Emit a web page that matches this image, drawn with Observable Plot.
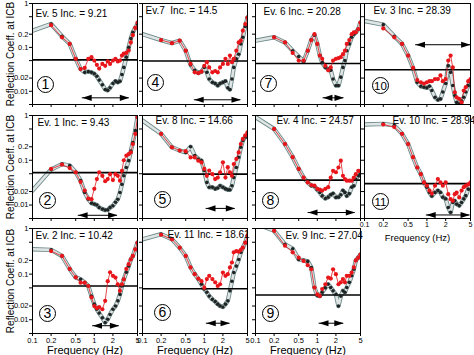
<!DOCTYPE html>
<html><head><meta charset="utf-8">
<script src="https://cdn.jsdelivr.net/npm/d3@7"></script>
<script src="https://cdn.jsdelivr.net/npm/@observablehq/plot@0.6"></script>
<style>
body{margin:0;background:#fff}
#chart{position:relative;width:474px;height:355px;overflow:hidden;background:#fff}
#chart svg{position:absolute;overflow:visible;background:transparent}
</style>
</head><body><div id="chart"></div><script>
// ---- data ----
const freqs = [0.1, 0.2, 0.3, 0.4, 0.5, 0.6, 0.7, 0.8, 0.9, 1.0, 1.1, 1.2, 1.35, 1.5, 1.65, 1.8, 2.0, 2.2, 2.4, 2.6, 2.8, 3.0, 3.3, 3.6, 3.9, 4.2, 4.6, 5.0];
const xTicks = [0.1, 0.2, 0.5, 1, 2, 5];
const yTicks = [1, 0.5, 0.2, 0.1, 0.05, 0.02, 0.01, 0.005];

const black1 = [0.24, 0.34, 0.18, 0.12, 0.055, 0.032, 0.027, 0.028, 0.027, 0.025, 0.022, 0.018, 0.014, 0.011, 0.0105, 0.012, 0.015, 0.017, 0.016, 0.017, 0.024, 0.035, 0.06, 0.1, 0.16, 0.22, 0.28, 0.34];
const red1   = [null, 0.32, 0.17, 0.12, 0.055, 0.032, 0.034, 0.055, 0.06, 0.05, 0.04, 0.033, 0.042, 0.038, 0.048, 0.042, 0.05, 0.055, 0.048, 0.05, 0.065, 0.072, 0.075, 0.085, 0.13, 0.19, 0.28, 0.37];
const black2 = [0.021, 0.062, 0.082, 0.076, 0.054, 0.035, 0.019, 0.0135, 0.011, 0.0105, 0.01, 0.0088, 0.0081, 0.0077, 0.0078, 0.0088, 0.0096, 0.0115, 0.0135, 0.019, 0.029, 0.045, 0.069, 0.098, 0.16, 0.25, 0.46, 0.92];
const red2   = [null, 0.064, 0.08, 0.067, 0.054, 0.033, 0.021, 0.014, 0.0135, 0.023, 0.038, 0.054, 0.045, 0.034, 0.038, 0.049, 0.036, 0.049, 0.045, 0.035, 0.058, 0.1, 0.127, 0.137, 0.15, 0.23, 0.39, 0.92];
const black3 = [0.35, 0.34, 0.25, 0.13, 0.085, 0.077, 0.065, 0.055, 0.033, 0.022, 0.017, 0.014, 0.011, 0.0087, 0.0103, 0.013, 0.017, 0.02, 0.026, 0.036, 0.055, 0.077, 0.11, 0.15, 0.21, 0.25, 0.35, 0.49];
const red3   = [null, 0.32, 0.25, 0.13, 0.085, 0.065, 0.065, 0.055, 0.031, 0.02, 0.018, 0.019, 0.017, 0.026, 0.07, 0.11, 0.092, 0.084, 0.06, 0.043, 0.06, 0.077, 0.13, 0.165, 0.21, 0.25, 0.35, 0.49];
const black4 = [0.2, 0.147, 0.125, 0.142, 0.084, 0.04, 0.03, 0.026, 0.028, 0.035, 0.027, 0.019, 0.016, 0.015, 0.0135, 0.015, 0.016, 0.017, 0.012, 0.011, 0.019, 0.035, 0.055, 0.07, 0.12, 0.17, 0.3, 0.48];
const red4   = [null, 0.147, 0.125, 0.142, 0.084, 0.042, 0.027, 0.026, 0.028, 0.038, 0.046, 0.035, 0.027, 0.029, 0.027, 0.035, 0.042, 0.055, 0.042, 0.065, 0.046, 0.055, 0.084, 0.13, 0.142, 0.24, 0.34, 0.48];
const black5 = [0.77, 0.39, 0.195, 0.165, 0.15, 0.2, 0.127, 0.107, 0.098, 0.059, 0.032, 0.025, 0.025, 0.023, 0.024, 0.027, 0.025, 0.023, 0.022, 0.022, 0.027, 0.041, 0.069, 0.117, 0.195, 0.275, 0.33, 0.36];
const red5   = [null, 0.39, 0.195, 0.165, 0.16, 0.116, 0.116, 0.098, 0.09, 0.064, 0.045, 0.059, 0.049, 0.038, 0.041, 0.054, 0.09, 0.041, 0.07, 0.054, 0.045, 0.082, 0.107, 0.15, 0.23, 0.3, 0.36, 0.42];
const black6 = [0.58, 0.75, 0.58, 0.38, 0.25, 0.14, 0.1, 0.078, 0.06, 0.047, 0.04, 0.033, 0.028, 0.025, 0.022, 0.02, 0.019, 0.022, 0.026, 0.043, 0.07, 0.108, 0.15, 0.21, 0.3, 0.38, 0.49, 0.69];
const red6   = [null, 0.73, 0.58, 0.38, 0.25, 0.14, 0.1, 0.08, 0.07, 0.05, 0.078, 0.092, 0.078, 0.066, 0.055, 0.06, 0.108, 0.092, 0.1, 0.14, 0.18, 0.3, 0.32, 0.31, 0.34, 0.38, 0.49, 0.69];
const black7 = [0.142, 0.17, 0.13, 0.084, 0.062, 0.048, 0.084, 0.147, 0.19, 0.12, 0.065, 0.045, 0.035, 0.032, 0.03, 0.019, 0.0135, 0.0135, 0.021, 0.035, 0.05, 0.084, 0.12, 0.17, 0.2, 0.22, 0.26, 0.37];
const red7   = [null, 0.17, 0.13, 0.075, 0.05, 0.05, 0.084, 0.147, 0.2, 0.12, 0.065, 0.055, 0.038, 0.03, 0.035, 0.05, 0.055, 0.057, 0.06, 0.07, 0.084, 0.12, 0.147, 0.2, 0.22, 0.22, 0.26, 0.37];
const black8 = [0.92, 0.5, 0.23, 0.117, 0.064, 0.041, 0.032, 0.027, 0.026, 0.022, 0.019, 0.016, 0.014, 0.015, 0.017, 0.018, 0.0148, 0.015, 0.017, 0.021, 0.019, 0.016, 0.018, 0.025, 0.027, 0.038, 0.045, 0.05];
const red8   = [null, 0.5, 0.23, 0.117, 0.064, 0.041, 0.032, 0.028, 0.027, 0.023, 0.022, 0.021, 0.023, 0.025, 0.041, 0.058, 0.054, 0.069, 0.098, 0.045, 0.038, 0.035, 0.035, 0.035, 0.041, 0.049, 0.058, 0.058];
const black9 = [1.3, 0.89, 0.45, 0.36, 0.21, 0.2, 0.19, 0.14, 0.051, 0.034, 0.033, 0.04, 0.05, 0.06, 0.051, 0.043, 0.036, 0.02, 0.033, 0.043, 0.04, 0.051, 0.066, 0.092, 0.128, 0.2, 0.23, 0.27];
const red9   = [null, 0.89, 0.42, 0.3, 0.23, 0.195, 0.157, 0.128, 0.051, 0.036, 0.033, 0.047, 0.06, 0.084, 0.08, 0.128, 0.1, 0.06, 0.066, 0.078, 0.066, 0.092, 0.092, 0.108, 0.14, 0.2, 0.23, 0.27];
const black10 = [0.4, 0.33, 0.18, 0.12, 0.065, 0.034, 0.016, 0.013, 0.0124, 0.012, 0.013, 0.0104, 0.0073, 0.0064, 0.0067, 0.0096, 0.015, 0.038, 0.027, 0.0135, 0.008, 0.0056, 0.0052, 0.006, 0.0073, 0.0096, 0.0135, 0.016];
const red10   = [null, 0.27, 0.17, 0.12, 0.065, 0.034, 0.018, 0.016, 0.015, 0.016, 0.017, 0.017, 0.019, 0.019, 0.023, 0.017, 0.019, 0.05, 0.065, 0.035, 0.0095, 0.0073, 0.0067, 0.0056, 0.0104, 0.0124, 0.017, 0.019];
const black11 = [0.63, 0.65, 0.6, 0.39, 0.23, 0.117, 0.069, 0.049, 0.032, 0.025, 0.019, 0.016, 0.019, 0.021, 0.019, 0.015, 0.0137, 0.0088, 0.0069, 0.0114, 0.0124, 0.0105, 0.0097, 0.0114, 0.0137, 0.0162, 0.0226, 0.029];
const red11   = [null, 0.63, 0.55, 0.39, 0.23, 0.117, 0.069, 0.049, 0.032, 0.027, 0.021, 0.018, 0.027, 0.038, 0.032, 0.027, 0.032, 0.0175, 0.0135, 0.0124, 0.0175, 0.019, 0.0148, 0.021, 0.025, 0.027, 0.029, 0.032];

const panelNumbers = ["1","2","3","4","5","6","7","8","9","10","11"];
const panelTitles = ["Ev. 5 Inc. = 9.21", "Ev. 1 Inc. = 9.43", "Ev. 2 Inc. = 10.42",
  "Ev.7  Inc. = 14.5", "Ev. 8 Inc. = 14.66", "Ev. 11 Inc. = 18.61",
  "Ev. 6 Inc. = 20.28", "Ev. 4 Inc. = 24.57", "Ev. 9 Inc. = 27.04",
  "Ev. 3 Inc. = 28.39", "Ev. 10 Inc. = 28.94"];
const thresholds = [0.052, 0.053, 0.055, 0.049, 0.049, 0.048, 0.043, 0.036, 0.035, 0.031, 0.030];
const arrowLo = [0.64, 0.55, 0.94, 0.69, 1.07, 1.08, 1.24, 0.71, 1.07, 0.66, 0.98];
const arrowHi = [3.67, 2.37, 2.53, 3.9, 3.16, 2.6, 2.69, 4.1, 2.67, 5.0, 4.9];
const arrowLevel = [0.0071, 0.0059, 0.0074, 0.0064, 0.0084, 0.0084, 0.0071, 0.0068, 0.0084, 0.115, 0.006];

const blackSeries = [black1, black2, black3, black4, black5, black6, black7, black8, black9, black10, black11];
const redSeries = [red1, red2, red3, red4, red5, red6, red7, red8, red9, red10, red11];

// ---- layout (positions/styles) ----
const colX = [32, 142, 255, 364], colW = [105, 105, 105, 106];
const rowY = [3, 115, 228], rowH = [101, 103, 105];
const titleDx = [3, 5, 3, 3, 13, 25, 8, 21, 30, 9, 28];
const titleDy = [10.5, 7, 7, 7.5, 5.5, 6.5, 8, 5.5, 7, 7.5, 5];
const circDx = [13, 15, 15, 13, 20, 20, 13, 15, 15, 16, 16];
const circDy = [-20, -18, -20, -22, -19, -21, -21, -18, -20, -19, -17];
const ML = 32, MR = 6, MT = 6, MB = 24;
const FONT = "Liberation Sans, Arial, Helvetica, sans-serif";

const headSym = {
  draw(ctx, size) {
    const r = Math.sqrt(size / Math.PI);
    ctx.moveTo(0, 0);
    ctx.lineTo(-2.6 * r, -0.85 * r);
    ctx.lineTo(-2.6 * r, 0.85 * r);
    ctx.closePath();
  }
};

const chart = document.getElementById("chart");

for (let i = 0; i < 11; i++) {
  const col = Math.floor(i / 3), row = i % 3;
  const w = colW[col], h = rowH[row];
  const showX = row === 2 || i === 10;
  const showY = col === 0;
  const pts = freqs.map((f, k) => ({f, b: blackSeries[i][k], r: redSeries[i][k]}));
  const dots = pts.filter(d => d.f >= 0.2);
  const reds = pts.filter(d => d.r != null);
  const arr = [{lo: arrowLo[i], hi: arrowHi[i], y: arrowLevel[i]}];
  const heads = [{f: arrowLo[i], y: arrowLevel[i], rot: 180}, {f: arrowHi[i], y: arrowLevel[i], rot: 0}];
  const marks = [
    Plot.line(pts, {x: "f", y: "b", stroke: "#6f8b8b", strokeWidth: 4.4, clip: true}),
    Plot.line(pts, {x: "f", y: "b", stroke: "#dfe4e4", strokeWidth: 2.6, clip: true}),
    Plot.ruleY([thresholds[i]], {stroke: "black", strokeWidth: 1.6}),
    Plot.line(reds, {x: "f", y: "r", stroke: "#e0191e", strokeWidth: 0.8, clip: true}),
    Plot.dot(dots, {x: "f", y: "b", r: 1.8, fill: "#1e2424", clip: true}),
    Plot.dot(reds, {x: "f", y: "r", r: 2.1, fill: "#e8161b", clip: true}),
    Plot.ruleY(arr, {y: "y", x1: "lo", x2: "hi", stroke: "black", strokeWidth: 1}),
    Plot.dot(heads, {x: "f", y: "y", symbol: headSym, r: 3.6, fill: "black", rotate: "rot"}),
    Plot.dot([0], {frameAnchor: "bottom-left", dx: circDx[i], dy: circDy[i], r: 8, stroke: "black", strokeWidth: 1, fill: "none"}),
    Plot.text([panelNumbers[i]], {text: d => d, frameAnchor: "bottom-left", dx: circDx[i], dy: circDy[i] + 0.5, fontSize: panelNumbers[i].length > 1 ? 11.5 : 14, textAnchor: "middle", lineAnchor: "middle", fill: "black"}),
    Plot.text([panelTitles[i]], {text: d => d, frameAnchor: "top-left", dx: titleDx[i], dy: titleDy[i], fontSize: 10, textAnchor: "start", lineAnchor: "middle", fill: "black"}),
    Plot.axisY({ticks: yTicks, tickSize: 3, tickPadding: 1, label: null, fontSize: 7.5, tickFormat: showY ? (d => String(d)) : (() => "")}),
    Plot.axisX({ticks: xTicks, tickSize: 3, tickPadding: 1, label: null, fontSize: i === 10 ? 7 : 7.5, tickFormat: showX ? (d => String(d)) : (() => "")}),
    Plot.frame({stroke: "black", strokeWidth: 1})
  ];
  if (showY) marks.push(Plot.text(["Reflection Coeff. at ICB"], {text: d => d, frameAnchor: "left", dx: -22, rotate: -90, fontSize: 10, textAnchor: "middle", lineAnchor: "middle", fill: "black"}));
  if (showX) marks.push(Plot.text(["Frequency (Hz)"], {text: d => d, frameAnchor: "bottom", dy: i === 10 ? 19 : 16.5, fontSize: i === 10 ? 9.5 : 11, textAnchor: "middle", lineAnchor: "middle", fill: "black"}));

  const svg = Plot.plot({
    width: ML + w + MR,
    height: MT + h + MB,
    marginLeft: ML, marginRight: MR, marginTop: MT, marginBottom: MB,
    x: {type: "log", domain: [0.1, 5]},
    y: {type: "log", domain: [0.005, 1]},
    style: {fontFamily: FONT, color: "black", background: "transparent"},
    marks
  });
  svg.style.position = "absolute";
  svg.style.left = (colX[col] - ML) + "px";
  svg.style.top = (rowY[row] - MT) + "px";
  svg.style.overflow = "visible";
  svg.style.maxWidth = "none";
  chart.appendChild(svg);
}
</script></body></html>
